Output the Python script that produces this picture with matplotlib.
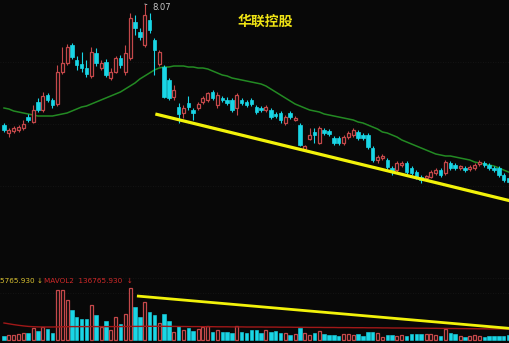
import numpy as np
import matplotlib
matplotlib.use("Agg")
import matplotlib.pyplot as plt

# -----------------------------------------------------------
# dados - 华联控股 日K
# -----------------------------------------------------------
abertura = [6.86, 6.78, 6.80, 6.81, 6.83, 6.94, 6.89, 7.09, 7.01, 7.16,
            7.11, 7.07, 7.39, 7.48, 7.66, 7.51, 7.47, 7.43, 7.35, 7.58,
            7.43, 7.49, 7.33, 7.39, 7.53, 7.39, 7.53, 7.89, 7.79, 7.66,
            7.91, 7.71, 7.47, 7.44, 7.31, 7.14, 7.04, 6.98, 7.08, 7.01,
            7.03, 7.09, 7.11, 7.19, 7.06, 7.13, 7.11, 7.11, 7.03, 7.11,
            7.09, 7.11, 7.04, 7.03, 7.01, 7.01, 6.97, 6.98, 6.88, 6.98,
            6.91, 6.86, 6.62, 6.72, 6.79, 6.68, 6.81, 6.80, 6.73, 6.73,
            6.68, 6.74, 6.76, 6.79, 6.76, 6.76, 6.63, 6.51, 6.53, 6.51,
            6.43, 6.41, 6.46, 6.48, 6.43, 6.39, 6.34, 6.33, 6.34, 6.38,
            6.41, 6.38, 6.48, 6.46, 6.43, 6.43, 6.42, 6.43, 6.47, 6.48,
            6.46, 6.43, 6.43, 6.36, 6.33]
fechamento = [6.81, 6.81, 6.83, 6.84, 6.87, 6.91, 7.01, 7.01, 7.15, 7.11,
              7.06, 7.39, 7.48, 7.64, 7.54, 7.46, 7.43, 7.37, 7.59, 7.48,
              7.48, 7.36, 7.39, 7.53, 7.46, 7.58, 7.93, 7.83, 7.74, 7.96,
              7.81, 7.61, 7.59, 7.14, 7.13, 7.21, 6.97, 7.03, 7.04, 6.98,
              7.07, 7.13, 7.18, 7.13, 7.16, 7.11, 7.08, 7.01, 7.16, 7.08,
              7.06, 7.07, 6.99, 7.01, 7.04, 6.94, 6.95, 6.91, 6.94, 6.94,
              6.93, 6.66, 6.65, 6.76, 6.76, 6.83, 6.78, 6.77, 6.68, 6.68,
              6.74, 6.78, 6.81, 6.73, 6.73, 6.64, 6.51, 6.54, 6.55, 6.44,
              6.39, 6.48, 6.48, 6.39, 6.38, 6.34, 6.31, 6.35, 6.39, 6.41,
              6.36, 6.49, 6.43, 6.43, 6.45, 6.41, 6.44, 6.46, 6.49, 6.46,
              6.43, 6.41, 6.36, 6.31, 6.29]
maxima = [6.88, 6.83, 6.85, 6.86, 6.91, 6.97, 7.06, 7.13, 7.19, 7.18,
          7.13, 7.46, 7.64, 7.67, 7.68, 7.55, 7.59, 7.51, 7.64, 7.63,
          7.51, 7.52, 7.43, 7.55, 7.56, 7.66, 7.98, 7.96, 7.83, 8.07,
          7.98, 7.73, 7.61, 7.46, 7.33, 7.26, 7.08, 7.06, 7.15, 7.03,
          7.09, 7.15, 7.19, 7.21, 7.19, 7.15, 7.14, 7.13, 7.18, 7.13,
          7.11, 7.13, 7.06, 7.05, 7.06, 7.03, 6.99, 7.00, 6.96, 7.00,
          6.95, 6.88, 6.66, 6.83, 6.83, 6.85, 6.83, 6.82, 6.75, 6.75,
          6.76, 6.80, 6.83, 6.81, 6.78, 6.78, 6.65, 6.56, 6.57, 6.53,
          6.45, 6.50, 6.50, 6.50, 6.45, 6.41, 6.36, 6.36, 6.41, 6.43,
          6.43, 6.51, 6.50, 6.48, 6.46, 6.45, 6.46, 6.48, 6.51, 6.50,
          6.48, 6.45, 6.45, 6.38, 6.35]
minima = [6.79, 6.74, 6.78, 6.79, 6.81, 6.89, 6.88, 6.99, 6.99, 7.09,
          7.03, 7.05, 7.37, 7.46, 7.52, 7.41, 7.39, 7.34, 7.33, 7.45,
          7.41, 7.34, 7.31, 7.38, 7.43, 7.36, 7.51, 7.76, 7.71, 7.64,
          7.78, 7.36, 7.45, 7.13, 7.11, 7.11, 6.88, 6.93, 7.01, 6.91,
          7.01, 7.07, 7.09, 7.11, 7.03, 7.09, 7.06, 6.99, 6.96, 7.06,
          7.04, 7.05, 6.97, 6.99, 6.99, 6.92, 6.93, 6.88, 6.86, 6.92,
          6.90, 6.65, 6.61, 6.71, 6.68, 6.67, 6.76, 6.75, 6.66, 6.66,
          6.66, 6.72, 6.74, 6.71, 6.71, 6.62, 6.49, 6.48, 6.51, 6.42,
          6.36, 6.39, 6.44, 6.37, 6.36, 6.32, 6.28, 6.31, 6.33, 6.36,
          6.34, 6.36, 6.41, 6.41, 6.41, 6.39, 6.40, 6.41, 6.45, 6.44,
          6.41, 6.39, 6.34, 6.29, 6.27]

# media movel (linha verde)
media = [7.03, 7.02, 7.00, 6.99, 6.98, 6.97, 6.96, 6.95, 6.95, 6.95,
         6.95, 6.96, 6.97, 6.98, 7.00, 7.02, 7.04, 7.05, 7.07, 7.09,
         7.11, 7.13, 7.15, 7.17, 7.19, 7.22, 7.25, 7.28, 7.32, 7.35,
         7.38, 7.41, 7.43, 7.44, 7.44, 7.45, 7.45, 7.45, 7.44, 7.44,
         7.43, 7.43, 7.42, 7.40, 7.38, 7.36, 7.35, 7.33, 7.32, 7.31,
         7.30, 7.29, 7.28, 7.27, 7.25, 7.22, 7.19, 7.16, 7.13, 7.10,
         7.07, 7.05, 7.03, 7.01, 7.00, 6.99, 6.97, 6.96, 6.95, 6.94,
         6.93, 6.92, 6.91, 6.89, 6.88, 6.86, 6.84, 6.82, 6.79, 6.78,
         6.76, 6.74, 6.71, 6.69, 6.67, 6.65, 6.63, 6.61, 6.59, 6.57,
         6.56, 6.55, 6.55, 6.54, 6.53, 6.52, 6.51, 6.49, 6.48, 6.47,
         6.46, 6.45, 6.43, 6.41, 6.39]

# volume (maos)
volume = [40000, 50000, 50000, 60000, 70000, 70000, 120000, 90000, 130000, 110000,
          70000, 500000, 500000, 400000, 300000, 230000, 210000, 210000, 350000, 250000,
          130000, 190000, 100000, 230000, 160000, 260000, 520000, 330000, 230000, 380000,
          280000, 250000, 170000, 260000, 190000, 80000, 140000, 100000, 120000, 90000,
          110000, 130000, 140000, 80000, 100000, 80000, 80000, 70000, 140000, 80000,
          70000, 100000, 100000, 70000, 100000, 80000, 90000, 70000, 70000, 50000,
          60000, 120000, 70000, 50000, 70000, 90000, 60000, 50000, 50000, 40000,
          60000, 60000, 50000, 60000, 40000, 80000, 80000, 70000, 30000, 50000,
          50000, 40000, 50000, 40000, 60000, 60000, 60000, 60000, 60000, 50000,
          40000, 110000, 70000, 60000, 40000, 30000, 40000, 50000, 40000, 30000,
          40000, 40000, 40000, 40000, 50000]
mavol2 = [170000, 162000, 154000, 147000, 141000, 136000, 133000, 131000, 130000, 130000,
          130000, 131000, 132000, 133000, 134000, 134000, 134000, 134000, 134000, 134000,
          134000, 134000, 134000, 134000, 134000, 135000, 136000, 136000, 136000, 137000,
          137000, 137000, 137000, 137000, 136000, 136000, 135000, 135000, 134000, 134000,
          134000, 133000, 133000, 133000, 132000, 132000, 132000, 131000, 131000, 131000,
          130000, 130000, 130000, 130000, 129000, 129000, 129000, 128000, 128000, 128000,
          127000, 127000, 127000, 126000, 126000, 126000, 125000, 125000, 125000, 124000,
          124000, 124000, 123000, 123000, 123000, 122000, 122000, 122000, 121000, 121000,
          120000, 120000, 120000, 119000, 119000, 118000, 118000, 118000, 117000, 117000,
          116000, 116000, 115000, 115000, 114000, 114000, 113000, 113000, 112000, 112000,
          111000, 111000, 110000, 110000, 109000]

# linhas de tendencia desenhadas (indice, valor)
tend_preco = ([31.2, 104.5], [6.97, 6.10])
tend_vol = ([27.4, 104.5], [440000, 115000])

titulo = "华联控股"
rotulo_max = "8.07"
txt_vol1 = "5765.930 ↓"
txt_vol2 = "MAVOL2  136765.930  ↓"

# -----------------------------------------------------------
# cores
# -----------------------------------------------------------
FUNDO = "#080808"
VERMELHO = "#c4484a"
CIANO = "#19d6e6"
VERDE = "#238a23"
AMARELO = "#f2f20a"

plt.rcParams['font.family'] = ['Noto Sans CJK SC', 'DejaVu Sans']

W, H = 510, 343
fig = plt.figure(figsize=(W / 100, H / 100), dpi=100, facecolor=FUNDO)
ax = fig.add_axes([0, 1 - 265 / H, 1, 265 / H], facecolor=FUNDO)
axv = fig.add_axes([0, 0, 1, 75 / H], facecolor=FUNDO)

n = len(abertura)
x = np.arange(n)
o = np.array(abertura)
c = np.array(fechamento)
hi = np.array(maxima)
lo = np.array(minima)
sobe = c >= o
larg = 0.72

# grade pontilhada discreta
for yy in [7.49, 6.87, 6.25]:
    ax.axhline(yy, color="#181818", lw=0.6, ls=(0, (1, 2)), zorder=0)
for yy in [620000, 470000]:
    axv.axhline(yy, color="#181818", lw=0.6, ls=(0, (1, 2)), zorder=0)

# pavios
topo = np.maximum(o, c)
base = np.minimum(o, c)
ax.vlines(x[~sobe], lo[~sobe], hi[~sobe], color=CIANO, lw=0.8, zorder=2)
ax.vlines(x[sobe], topo[sobe], hi[sobe], color=VERMELHO, lw=0.8, zorder=2)
ax.vlines(x[sobe], lo[sobe], base[sobe], color=VERMELHO, lw=0.8, zorder=2)

# corpos
alt = np.maximum(topo - base, 0.012)
ax.bar(x[~sobe], alt[~sobe], bottom=base[~sobe], width=larg,
       color=CIANO, edgecolor=CIANO, lw=0.5, zorder=3)
ax.bar(x[sobe], alt[sobe], bottom=base[sobe], width=larg - 0.1,
       facecolor=FUNDO, edgecolor=VERMELHO, lw=0.9, zorder=3)

# media movel
ax.plot(x, media, color=VERDE, lw=1.1, zorder=1)

# tendencia
ax.plot(tend_preco[0], tend_preco[1], color=AMARELO, lw=2.3, zorder=4,
        solid_capstyle="butt")

# maxima
imax = int(np.argmax(hi))
ax.annotate(rotulo_max, xy=(x[imax], hi[imax]), xytext=(x[imax] + 1.6, hi[imax] - 0.04),
            color="#c8c8c8", fontsize=6, family="DejaVu Sans", va="center",
            arrowprops=dict(arrowstyle="-", color="#c8c8c8", lw=0.6))

ax.set_xlim(-0.82, 104.3)
ax.set_ylim(8.11 - 2.65, 8.11)
ax.axis("off")

# volume
v = np.array(volume)
axv.bar(x[~sobe], v[~sobe], width=larg, color=CIANO, edgecolor=CIANO, lw=0.4, zorder=2)
axv.bar(x[sobe], v[sobe], width=larg - 0.1, facecolor=FUNDO, edgecolor=VERMELHO,
        lw=0.9, zorder=2)
axv.plot(x, mavol2, color="#a01818", lw=1.0, zorder=3)
axv.plot(tend_vol[0], tend_vol[1], color=AMARELO, lw=2.0, zorder=4, solid_capstyle="butt")
axv.set_xlim(-0.82, 104.3)
axv.set_ylim(-30000, 720000)
axv.axis("off")

# textos
fig.text(265 / W, 1 - 22 / H, titulo, color="#f0e414", fontsize=10, fontweight="bold",
         ha="center", va="center")
fig.text(0 / W, 1 - 281 / H, txt_vol1, color="#d8c030", fontsize=5.2,
         family=["DejaVu Sans"], ha="left", va="center")
fig.text(44 / W, 1 - 281 / H, txt_vol2, color="#d02828", fontsize=5.2,
         family=["DejaVu Sans"], ha="left", va="center")

fig.savefig("out.png", dpi=100, facecolor=FUNDO)
